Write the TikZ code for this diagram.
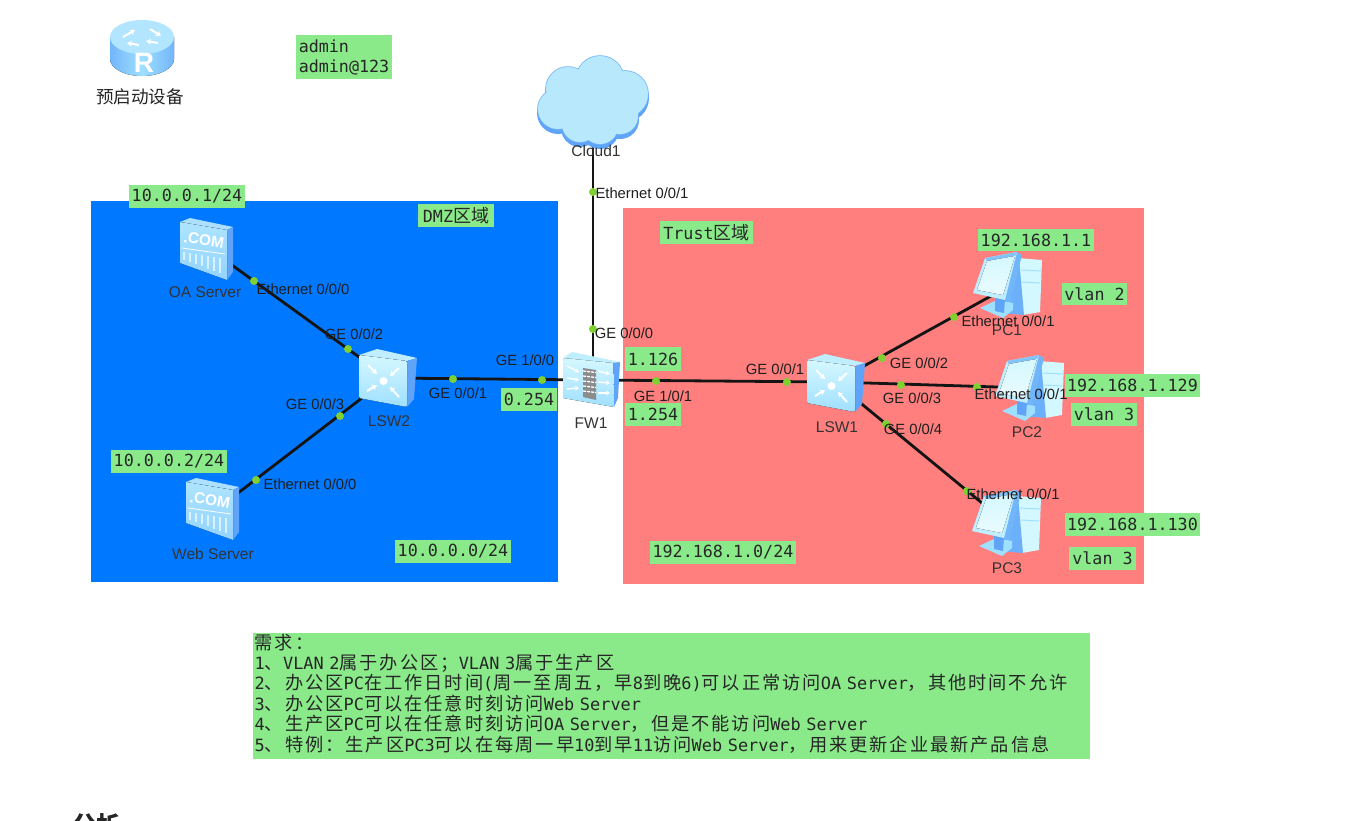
\documentclass[tikz,border=0pt]{standalone}
\usepackage{fontspec}
\usetikzlibrary{arrows.meta}
\setmainfont{Liberation Sans}
\newfontfamily\cjkn{Noto Sans CJK SC}
\newfontfamily\cjkl{Noto Sans CJK SC}[LetterSpace=11]
\newfontfamily\monof{DejaVu Sans Mono}
\newcommand{\Zw}[1]{{\cjkl\fontsize{18.2}{20.4}\selectfont #1}}
\newcommand{\Zn}[1]{{\cjkn\fontsize{18}{20}\selectfont #1}}
\newcommand{\Fcm}{\symbol{"FF0C}}
\newcommand{\Fcl}{\symbol{"FF1A}}
\newcommand{\Fsc}{\symbol{"FF1B}}
\definecolor{gbox}{HTML}{8AEA8A}
\definecolor{dmz}{HTML}{0078FF}
\definecolor{trust}{HTML}{FF7F7F}
\definecolor{portc}{HTML}{7FD030}
\definecolor{icoA}{HTML}{D4F8FF}
\definecolor{icoB}{HTML}{9FDFFF}
\definecolor{icoC}{HTML}{5FA4F8}
\definecolor{icoD}{HTML}{BFEFFF}
\tikzset{
  x=1pt,y=-1pt,
  zone/.style={inner sep=0pt,draw=none},
  gb/.style={fill=gbox,inner sep=0pt,font=\monof\fontsize{16.7}{20}\selectfont,align=left,text=black!85},
  link/.style={line width=2.8pt,black!92},
  port/.style={circle,fill=portc,inner sep=0pt,minimum size=8pt},
  plab/.style={inner sep=0pt,font=\fontsize{14.8}{16}\selectfont,text=black!88},
  dlab/.style={inner sep=0pt,font=\fontsize{15.5}{17}\selectfont,text=black!80},
  dev/.style={inner sep=0pt,minimum size=1pt},
  pics/swbox/.style={code={
    \fill[icoD] (-28,-21) -- (-10,-27) -- (30,-18) -- (20,-15) -- cycle;
    \fill[icoC] (20,-15) -- (30,-18) -- (27,23) -- (20,31) -- cycle;
    \fill[top color=icoA,bottom color=icoB,rounded corners=1.5pt] (-28,-21) -- (20,-15) -- (20,31) -- (-28,22) -- cycle;
    \begin{scope}[white,line width=2pt,-{Stealth[length=5pt,width=6pt]}]
      \draw (-19,-11) -- (-10,-2);
      \draw (12,-8) -- (3,0);
      \draw (-20,15) -- (-10,9);
      \draw (12,21) -- (3,11);
    \end{scope}
    \fill[white] (-3.5,5) circle (4);
  }},
  pics/fwbox/.style={code={
    \fill[icoD] (-30,-22) -- (-21,-28) -- (27,-18) -- (20,-17) -- cycle;
    \fill[icoC] (20,-17) -- (27,-18) -- (25,18) -- (21,27) -- cycle;
    \fill[top color=icoA,bottom color=icoB,rounded corners=1.5pt] (-30,-22) -- (20,-17) -- (21,27) -- (-30,18) -- cycle;
    \begin{scope}[white,line width=1.5pt,-{Stealth[length=4pt,width=5pt]}]
      \draw (-26,-14) -- (-14,-8);
      \draw (-26,-2) -- (-14,0);
      \draw (-26,9) -- (-14,8);
      \draw (5,-9) -- (17,-6);
      \draw (5,2) -- (17,3);
      \draw (5,13) -- (17,13);
    \end{scope}
    \fill[black!45] (-10,-12) -- (3,-10) -- (3,20) -- (-10,17) -- cycle;
    \foreach \r in {-9,-4,1,6,11}{
      \draw[white,line width=1.3pt,dash pattern=on 3pt off 1pt] (-10,\r) -- (3,\r+1.5);
    }
  }},
  pics/srv/.style={code={
    \fill[icoD!80!icoC] (-27,-25) -- (-17,-29) -- (26,-20) -- (20,-17) -- cycle;
    \fill[icoC] (20,-17) -- (26,-20) -- (26,25) -- (20,33) -- cycle;
    \fill[top color=icoB!85!white,bottom color=icoB!80!icoC] (-27,-25) -- (20,-17) -- (20,33) -- (-27,16) -- cycle;
    \node[inner sep=0pt,white,rotate=-9,font=\bfseries\fontsize{15.5}{15}\selectfont] (com) at (-3,-7) {.COM};
    \foreach \i in {-23,-17,...,16}{
      \draw[white!60!icoB,line width=1.1pt] (\i,{4+(\i+27)*.17}) -- (\i,{12+(\i+27)*.34});
    }
    \draw[white,line width=.8pt] (-25,1) -- (18,7);
  }},
  pics/pcic/.style={code={
    % tower
    \fill[icoA] (10,-27) -- (35,-25) -- (33,27) -- (16,30) -- cycle;
    \fill[icoC!80!icoB] (6,-31) -- (12,-27) -- (17,30) -- (-6,28) -- (-3,15) -- cycle;
    \draw[icoB,line width=1pt] (14,-15) -- (34,-14);
    \draw[icoB,line width=1pt] (15,-3) -- (33,-2);
    % base
    \fill[icoB] (-27,23) -- (-10,15) -- (6,18) -- (6,25) -- (-4,33) -- cycle;
    \fill[icoC] (-12,12) -- (-2,14) -- (-3,28) -- (-12,26) -- cycle;
    % monitor
    \fill[icoC!70!icoB] (10,-33) -- (15,-30) -- (3,17) -- (-2,15) -- cycle;
    \fill[icoD] (-34,8) -- (-22,-27) -- (10,-33) -- (-2,15) -- cycle;
    \fill[icoC!45!icoB] (-22,-27) -- (10,-33) -- (8,-29) -- (-20,-24) -- cycle;
    \fill[top color=icoA,bottom color=white!50!icoA] (-30,5) -- (-20,-24) -- (8,-29) -- (-4,10) -- cycle;
  }},
  pics/rtr/.style={code={
    \fill[left color=icoC!70!icoB,right color=icoC!70!icoB,middle color=icoB] (-32,-11) -- (-32,11) arc[start angle=180,end angle=0,x radius=32,y radius=17] -- (32,-11) -- cycle;
    \fill[icoB!80!white] (0,-11) ellipse[x radius=32,y radius=17];
    \begin{scope}[white,line width=2pt,-{Stealth[length=5pt,width=6pt]}]
      \draw (-19,-11) -- (-7,-18);
      \draw (8,-19) -- (19,-12);
      \draw (16,-5) -- (4,-7);
      \draw (-3,-3) -- (-15,-5);
    \end{scope}
    \node[inner sep=0pt,white,font=\bfseries\fontsize{28}{28}\selectfont] (r) at (2,15) {R};
  }},
  pics/cld/.style={code={
    \foreach \a/\b/\r in {-35/10/20,-25/-10/22,7/-19/24,32/-5/23,27/17/18,-13/25/18,7/27/18,-15/5/25,15/5/30}{
      \fill[icoC] (\a,\b+4) circle (\r+1);
    }
    \foreach \a/\b/\r in {-35/10/20,-25/-10/22,7/-19/24,32/-5/23,27/17/18,-13/25/18,7/27/18,-15/5/25,15/5/30}{
      \fill[icoC!70!icoB] (\a,\b) circle (\r+.8);
    }
    \foreach \a/\b/\r in {-35/10/20,-25/-10/22,7/-19/24,32/-5/23,27/17/18,-13/25/18,7/27/18,-15/5/25,15/5/30}{
      \fill[cyan!28!white] (\a,\b) circle (\r);
    }
  }},
}
\begin{document}
\begin{tikzpicture}
\useasboundingbox (0,0) rectangle (1354,820);
\clip (0,0) rectangle (1354,820);
\fill[white] (0,0) rectangle (1354,820);
% zones
\node[zone,fill=dmz,minimum width=467pt,minimum height=381pt,anchor=north west] (dmzz) at (91,201) {};
\node[zone,fill=trust,minimum width=521pt,minimum height=376pt,anchor=north west] (trustz) at (623,208) {};
% devices (connection centres)
\node[dev] (cloud) at (593,95) {};
\node[dev] (oa) at (207,247) {};
\node[dev] (web) at (212,513) {};
\node[dev] (lsw2) at (388,378) {};
\node[dev] (fw1) at (593,380) {};
\node[dev] (lsw1) at (835,382) {};
\node[dev] (pc1) at (1000,291) {};
\node[dev] (pc2) at (1030,388) {};
\node[dev] (pc3) at (1005,522) {};
% connectors
\draw[link] (oa) -- (lsw2);
\draw[link] (web) -- (lsw2);
\draw[link] (lsw2) -- (fw1);
\draw[link] (cloud) -- (fw1);
\draw[link] (fw1) -- (lsw1);
\draw[link] (lsw1) -- (pc1);
\draw[link] (lsw1) -- (pc2);
\draw[link] (lsw1) -- (pc3);
% icons
\pic (rt) at (142,48) {rtr};
\pic (cl) at (593,99) {cld};
\pic (ics) at (207,247) {srv};
\pic (icw) at (213,507) {srv};
\pic at (387,376) {swbox};
\pic at (593,380) {fwbox};
\pic at (835,381) {swbox};
\pic at (1007,285) {pcic};
\pic at (1029,388) {pcic};
\pic at (1006,523) {pcic};
% port dots
\node[port] (d1) at (254,281) {};
\node[port] (d2) at (348,349) {};
\node[port] (d3) at (256,480) {};
\node[port] (d4) at (340,416) {};
\node[port] (d5) at (453,379) {};
\node[port] (d6) at (542,380) {};
\node[port] (d7) at (593,192) {};
\node[port] (d8) at (593,329) {};
\node[port] (d9) at (656,381) {};
\node[port] (d10) at (787,382) {};
\node[port] (d11) at (882,358) {};
\node[port] (d12) at (954,317) {};
\node[port] (d13) at (901,385) {};
\node[port] (d14) at (977,387) {};
\node[port] (d15) at (886,424) {};
\node[port] (d16) at (967,491) {};
% device labels
\node[inner sep=0pt,font=\cjkn\fontsize{17.6}{20}\selectfont,text=black!85] (pre) at (140,97) {预启动设备};
\node[dlab] (lcl) at (596,151) {Cloud1};
\node[dlab] (loa) at (205,292) {OA Server};
\node[dlab] (lweb) at (213,554) {Web Server};
\node[dlab] (llsw2) at (389,421) {LSW2};
\node[dlab] (lfw1) at (591,423) {FW1};
\node[dlab] (llsw1) at (837,427) {LSW1};
\node[dlab] (lpc1) at (1007,330) {PC1};
\node[dlab] (lpc2) at (1027,432) {PC2};
\node[dlab] (lpc3) at (1007,568) {PC3};
% port labels
\node[plab] (p1) at (303,289) {Ethernet 0/0/0};
\node[plab] (p2) at (354,334) {GE 0/0/2};
\node[plab] (p3) at (310,484) {Ethernet 0/0/0};
\node[plab] (p4) at (315,404) {GE 0/0/3};
\node[plab] (p5) at (458,393) {GE 0/0/1};
\node[plab] (p6) at (525,360) {GE 1/0/0};
\node[plab] (p7) at (642,193) {Ethernet 0/0/1};
\node[plab] (p8) at (624,333) {GE 0/0/0};
\node[plab] (p9) at (663,396) {GE 1/0/1};
\node[plab] (p10) at (775,369) {GE 0/0/1};
\node[plab] (p11) at (919,363) {GE 0/0/2};
\node[plab] (p12) at (1008,321) {Ethernet 0/0/1};
\node[plab] (p13) at (912,398) {GE 0/0/3};
\node[plab] (p14) at (1021,394) {Ethernet 0/0/1};
\node[plab] (p15) at (913,429) {GE 0/0/4};
\node[plab] (p16) at (1013,494) {Ethernet 0/0/1};
% green boxes
\node[gb,minimum width=96pt,minimum height=44pt] (cred) at (344,57) {admin\\admin@123};
\node[gb,minimum width=116pt,minimum height=23pt] (ip1) at (187,196.5) {10.0.0.1/24};
\node[gb,minimum width=76pt,minimum height=23pt] (zd) at (456,215.5) {DMZ\Zn{区域}};
\node[gb,minimum width=93pt,minimum height=23pt] (zt) at (706.5,232.5) {Trust\Zn{区域}};
\node[gb,minimum width=116pt,minimum height=22pt] (ip2) at (1036,240) {192.168.1.1};
\node[gb,minimum width=65pt,minimum height=22pt] (v1) at (1094.5,294) {vlan 2};
\node[gb,minimum width=135pt,minimum height=23pt] (ip3) at (1132.5,385.5) {192.168.1.129};
\node[gb,minimum width=66pt,minimum height=23pt] (v2) at (1104,414.5) {vlan 3};
\node[gb,minimum width=135pt,minimum height=23pt] (ip4) at (1132.5,524.5) {192.168.1.130};
\node[gb,minimum width=67pt,minimum height=23pt] (v3) at (1102.5,558.5) {vlan 3};
\node[gb,minimum width=56pt,minimum height=24pt] (a1) at (653,359) {1.126};
\node[gb,minimum width=56pt,minimum height=23pt] (a2) at (653,414.5) {1.254};
\node[gb,minimum width=56pt,minimum height=23pt] (a3) at (529,399.5) {0.254};
\node[gb,minimum width=116pt,minimum height=23pt] (ip5) at (169,461.5) {10.0.0.2/24};
\node[gb,minimum width=116pt,minimum height=23pt] (n1) at (453,551.5) {10.0.0.0/24};
\node[gb,minimum width=146pt,minimum height=23pt] (n2) at (723,552.5) {192.168.1.0/24};
% requirements
\node[gb,anchor=north west,minimum height=126pt,minimum width=837pt] (reqbox) at (253,633) {};
\node[gb,fill=none,anchor=west,text width=835pt,font=\monof\fontsize{16.9}{20.4}\selectfont] (req) at (254.5,693.5) {%
\Zw{需求\Fcl}\\
1\Zw{、}VLAN 2\Zw{属于办公区\Fsc}VLAN 3\Zw{属于生产区}\\
2\Zw{、办公区}PC\Zw{在工作日时间}(\Zw{周一至周五\Fcm 早}8\Zw{到晚}6)\Zw{可以正常访问}OA Server\Zw{\Fcm 其他时间不允许}\\
3\Zw{、办公区}PC\Zw{可以在任意时刻访问}Web Server\\
4\Zw{、生产区}PC\Zw{可以在任意时刻访问}OA Server\Zw{\Fcm 但是不能访问}Web Server\\
5\Zw{、特例\Fcl 生产区}PC3\Zw{可以在每周一早}10\Zw{到早}11\Zw{访问}Web Server\Zw{\Fcm 用来更新企业最新产品信息}};
% clipped heading
\node[inner sep=0pt,anchor=base west,font=\cjkn\bfseries\fontsize{24.5}{26}\selectfont,text=black!85] (fx) at (72,834) {分析};
\end{tikzpicture}
\end{document}
